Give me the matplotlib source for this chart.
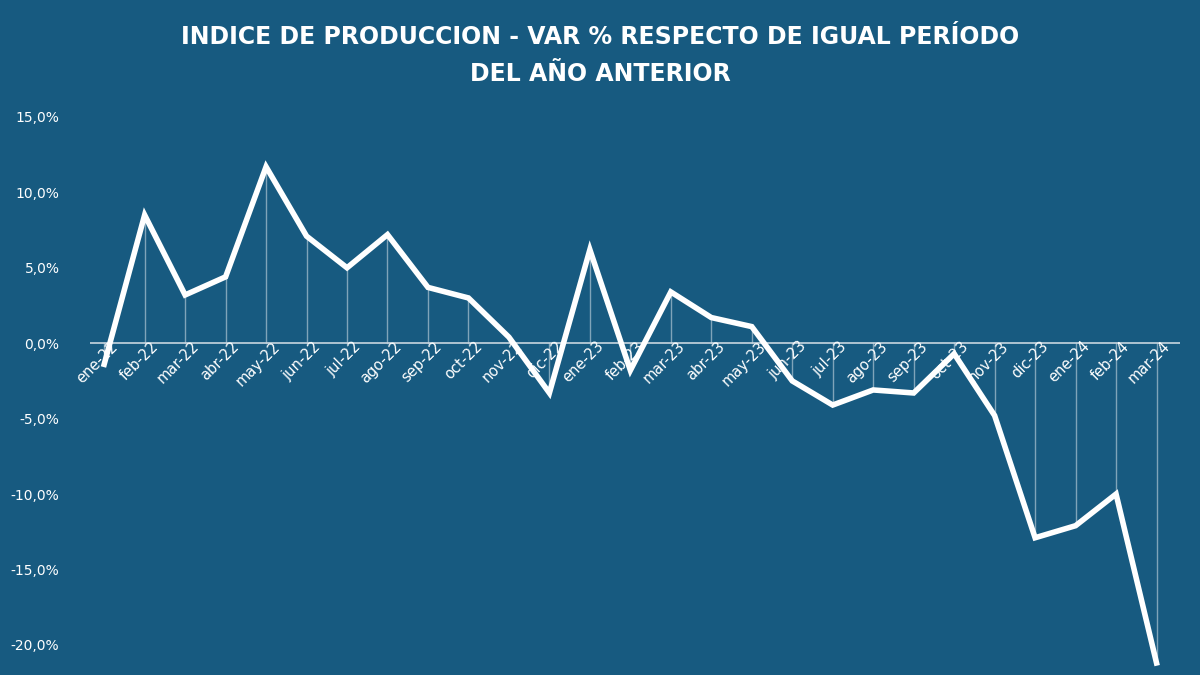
import matplotlib
matplotlib.use("Agg")
import matplotlib.pyplot as plt

months = ["ene-22","feb-22","mar-22","abr-22","may-22","jun-22","jul-22","ago-22","sep-22","oct-22","nov-22","dic-22",
          "ene-23","feb-23","mar-23","abr-23","may-23","jun-23","jul-23","ago-23","sep-23","oct-23","nov-23","dic-23",
          "ene-24","feb-24","mar-24"]
values = [-1.4, 8.5, 3.2, 4.4, 11.7, 7.1, 5.0, 7.2, 3.7, 3.0, 0.4, -3.3,
          6.2, -1.8, 3.4, 1.7, 1.1, -2.5, -4.1, -3.1, -3.3, -0.7, -4.8, -12.9,
          -12.1, -10.0, -21.2]
yticks = [15, 10, 5, 0, -5, -10, -15, -20]

bg = "#175a80"
fig = plt.figure(figsize=(12, 6.75), dpi=100, facecolor=bg)
ax = fig.add_axes([0.075, 0.0, 0.908, 0.8267], facecolor=bg)
x = list(range(len(values)))
for xi, v in zip(x, values):
    ax.plot([xi, xi], [0, v], color="white", lw=1, alpha=0.45, zorder=1)
ax.axhline(0, color="#c8d6e0", lw=1.2, zorder=1)
ax.plot(x, values, color="white", lw=4, zorder=3, solid_joinstyle="miter")
ax.set_xlim(-0.35, 26.57)
ax.set_ylim(-22, 15)
ax.set_yticks(yticks)
ax.set_yticklabels([f"{t:.1f}%".replace(".", ",") for t in yticks], color="white", fontsize=10)
ax.set_xticks(x)
ax.set_xticklabels([])
for xi, m in zip(x, months):
    ax.text(xi + 0.15, 0.3, m, rotation=45, ha="right", va="top", color="white", fontsize=10.5,
            rotation_mode="anchor", transform=ax.transData, zorder=2)
ax.tick_params(axis="both", length=0)
ax.tick_params(axis="y", pad=22)
for s in ax.spines.values():
    s.set_visible(False)
fig.text(0.5, 0.945, "INDICE DE PRODUCCION - VAR % RESPECTO DE IGUAL PERÍODO", ha="center", va="center",
         color="white", fontsize=17, fontweight="bold")
fig.text(0.5, 0.89, "DEL AÑO ANTERIOR", ha="center", va="center", color="white", fontsize=17, fontweight="bold")
fig.savefig("out.png", dpi=100, facecolor=bg)
